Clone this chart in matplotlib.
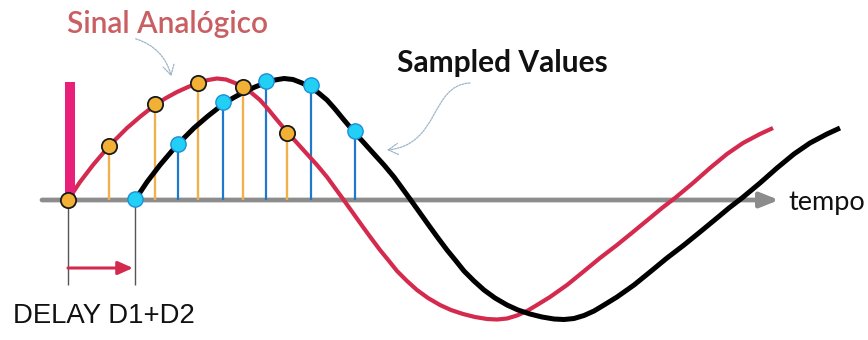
import numpy as np
import matplotlib
matplotlib.use("Agg")
import matplotlib.pyplot as plt
from matplotlib.patches import FancyArrowPatch
from matplotlib.path import Path

# analog signal (time in px, amplitude above the time axis)
analog_t = [68, 74, 80, 93, 110, 127, 141, 155, 166, 177, 188, 198, 208, 217, 226, 235,
            243, 251, 260, 268, 277, 288, 298, 307, 317, 327, 335, 343, 353, 363, 371,
            380, 389, 397, 407, 417, 428, 440, 451, 463, 475, 487, 497, 507, 517, 527,
            537, 550, 567, 583, 600, 617, 633, 650, 662, 675, 693, 710, 727, 743, 760, 773]
analog_v = [0, 9, 18, 35, 55, 72, 84, 95, 102, 108, 113, 117, 120, 121.5, 120.5, 117,
            113, 107.5, 100, 91, 80, 67, 56, 46, 35, 23, 12, 1, -13, -27, -38,
            -50, -61, -71, -81, -90, -98, -105, -110, -114, -117, -119, -119.5, -118.5, -115.5, -111,
            -105, -97, -85, -72, -58, -45, -32, -18, -8, 2, 17, 32, 46, 57, 66, 72]

delay = 67  # D1+D2

sample_t = [68, 109, 155, 198, 243, 287]
sample_v = [0, 54, 96, 117, 113, 67]

delayed_t = [135, 178, 223, 266, 311, 355]
delayed_v = [1, 56, 98, 119, 115, 69]

fig = plt.figure(figsize=(8.68, 3.4), dpi=100)
ax = fig.add_axes([0, 0, 1, 1])
ax.set_xlim(0, 868)
ax.set_ylim(-140, 200)
ax.axis("off")

# time axis
ax.add_patch(FancyArrowPatch((42, 0), (779, 0), arrowstyle="-|>,head_length=0.55,head_width=0.22",
                             mutation_scale=20, lw=3.4, color="#8c8c8c", shrinkA=0, shrinkB=0, zorder=1))
ax.text(788, -10, "tempo", fontsize=19.5, family="Lato", color="#111111", va="baseline")

# stems
ax.vlines(sample_t[1:], 0, sample_v[1:], color="#f0b04c", lw=1.7, zorder=2)
ax.vlines(delayed_t[1:], 0, delayed_v[1:], color="#1f78cc", lw=1.6, zorder=2)

# curves
ax.plot(analog_t, analog_v, color="#d42a4e", lw=3.0, solid_capstyle="butt", zorder=3)
ax.plot(np.array(analog_t) + delay, analog_v, color="black", lw=3.6, solid_capstyle="butt", zorder=4)

# impulse at start
ax.bar(70, 118, width=10, bottom=0, color="#e8207a", zorder=3)

# sample points
ax.plot(sample_t, sample_v, "o", ms=11, mfc="#f2b134", mec="#1a1a1a", mew=1.3, zorder=6)
ax.plot(delayed_t, delayed_v, "o", ms=11, mfc="#22d0f5", mec="#1a8fd8", mew=1.0, zorder=6)

# delay marker
ax.vlines([sample_t[0], delayed_t[0]], -85, 0, color="#555555", lw=1.0, zorder=0)
ax.add_patch(FancyArrowPatch((sample_t[0], -68), (delayed_t[0] - 2, -68),
                             arrowstyle="-|>,head_length=0.45,head_width=0.2",
                             mutation_scale=20, lw=2.2, color="#d42a4e", shrinkA=0, shrinkB=0))
ax.text(13, -123, "DELAY D1+D2", fontsize=19.8, family="Liberation Sans", color="#111111", va="baseline")

# labels with their pointer arrows
ax.text(67, 167, "Sinal Analógico", fontsize=21.5, family="Lato", weight="semibold", color="#c95f62",
        va="baseline")
ax.add_patch(FancyArrowPatch((133, 162), (172, 121), connectionstyle="arc3,rad=-0.3",
                             arrowstyle="->,head_length=0.35,head_width=0.2", mutation_scale=20,
                             lw=0.9, ls=(0, (1.5, 1)), color="#9fb3c8"))

ax.text(397, 128, "Sampled Values", fontsize=21.5, family="Lato", weight="bold", color="#111111",
        va="baseline")
verts = [(470, 117), (430, 115), (440, 55), (387, 50)]
codes = [Path.MOVETO, Path.CURVE4, Path.CURVE4, Path.CURVE4]
ax.add_patch(FancyArrowPatch(path=Path(verts, codes), arrowstyle="->,head_length=0.35,head_width=0.2",
                             mutation_scale=20, lw=0.9, ls=(0, (1.5, 1)), color="#9fb3c8"))

fig.savefig("out.png", dpi=100)
